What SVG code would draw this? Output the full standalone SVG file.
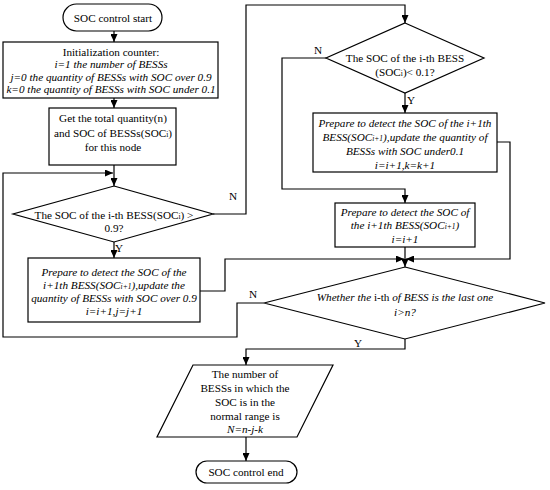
<svg xmlns="http://www.w3.org/2000/svg" width="550" height="490" viewBox="0 0 550 490" font-family="'Liberation Serif', 'Times New Roman', 'DejaVu Serif', serif">
<defs>
<marker id="ah" markerWidth="8" markerHeight="7" refX="8" refY="3.5" orient="auto" markerUnits="userSpaceOnUse">
<path d="M0,0 L8,3.5 L0,7 Z" fill="#000"/>
</marker>
<style>
.s{fill:#fff;stroke:#000;stroke-width:1.2}
.c{fill:none;stroke:#000;stroke-width:1.2}
.a{marker-end:url(#ah)}
text{font-family:'Liberation Serif', 'Times New Roman', 'DejaVu Serif', serif;font-size:11.2px;fill:#000;text-anchor:middle}
.i{font-style:italic}
.sub{font-size:7.5px}
</style>
</defs>
<rect width="550" height="490" fill="#fff"/>
<g id="connectors">
<path class="c a" d="M114,31 V42"/>
<path class="c a" d="M114,98 V108"/>
<path class="c a" d="M114,165 V186"/>
<path class="c a" d="M114,242 V258"/>
<path class="c a" d="M213,214 H246 V5 H405 V23"/>
<path class="c a" d="M326,58 H282 V189 H405 V203"/>
<path class="c a" d="M405,93 V113"/>
<path class="c a" d="M200,291 H225 V259 H404"/>
<path class="c a" d="M497,142 H510 V259 H406"/>
<path class="c a" d="M405,247 V267"/>
<path class="c a" d="M264,303 H237 V337 H3 V173 H113"/>
<path class="c a" d="M405,339 V349 H246 V365"/>
<path class="c a" d="M246,437 V461"/>
<text x="233" y="200">N</text>
<text x="318" y="54">N</text>
<text x="253" y="298">N</text>
<text x="119" y="252">Y</text>
<text x="411" y="104">Y</text>
<text x="358" y="347">Y</text>
</g>
<g id="start">
<rect class="s" x="63" y="4" width="99" height="27" rx="13.5"/>
<text x="113" y="21.5">SOC control start</text>
</g>
<g id="init">
<rect class="s" x="3" y="42" width="215" height="56"/>
<text x="111" y="56">Initialization counter:</text>
<text x="111" y="68" class="i">i=1 the number of BESSs</text>
<text x="111" y="81" class="i">j=0 the quantity of BESSs with SOC over 0.9</text>
<text x="111" y="93" class="i">k=0 the quantity of BESSs with SOC under 0.1</text>
</g>
<g id="get-total">
<rect class="s" x="49" y="108" width="127" height="57"/>
<text x="113" y="122">Get the total quantity(n)</text>
<text x="113" y="137">and SOC of BESSs(SOC<tspan class="sub">i</tspan>)</text>
<text x="113" y="151">for this node</text>
</g>
<g id="decision-high">
<polygon class="s" points="114,186 213,214 114,242 13,214"/>
<text x="114" y="219">The SOC of the i-th BESS(SOC<tspan class="sub">i</tspan>) &gt;</text>
<text x="114" y="232">0.9?</text>
</g>
<g id="update-high">
<rect class="s" x="28" y="258" width="172" height="64"/>
<text x="114" y="276" class="i">Prepare to detect the SOC of the</text>
<text x="114" y="289" class="i">i+1th BESS(SOC<tspan class="sub">i+1</tspan>),update the</text>
<text x="114" y="302" class="i">quantity of BESSs with SOC over 0.9</text>
<text x="114" y="315" class="i">i=i+1,j=j+1</text>
</g>
<g id="decision-low">
<polygon class="s" points="405,23 484,58 405,93 326,58"/>
<text x="405" y="62">The SOC of the i-th BESS</text>
<text x="405" y="76">(SOC<tspan class="sub">i</tspan>)&lt; 0.1?</text>
</g>
<g id="update-low">
<rect class="s" x="313" y="113" width="184" height="59"/>
<text x="405" y="127" class="i">Prepare to detect the SOC of the i+1th</text>
<text x="405" y="141" class="i">BESS(SOC<tspan class="sub">i+1</tspan>),update the quantity of</text>
<text x="405" y="155" class="i">BESSs with SOC under0.1</text>
<text x="405" y="169" class="i">i=i+1,k=k+1</text>
</g>
<g id="next">
<rect class="s" x="335" y="203" width="140" height="44"/>
<text x="405" y="216" class="i">Prepare to detect the SOC of</text>
<text x="405" y="229" class="i">the i+1th BESS(SOC<tspan class="sub">i+1</tspan>)</text>
<text x="405" y="243" class="i">i=i+1</text>
</g>
<g id="decision-last">
<polygon class="s" points="405,267 545,303 405,339 264,303"/>
<text x="405" y="301"><tspan class="i">Whether the  </tspan>i-th<tspan class="i"> of BESS is the last one</tspan></text>
<text x="405" y="316" class="i">i&gt;n?</text>
</g>
<g id="result">
<polygon class="s" points="193,365 333,365 297,437 157,437"/>
<text x="245" y="378">The number of</text>
<text x="245" y="392">BESSs in which the</text>
<text x="245" y="406">SOC is in the</text>
<text x="245" y="420">normal range is</text>
<text x="245" y="433" class="i">N=n-j-k</text>
</g>
<g id="end">
<rect class="s" x="196" y="461" width="101" height="22" rx="11"/>
<text x="246" y="476">SOC control end</text>
</g>
</svg>
